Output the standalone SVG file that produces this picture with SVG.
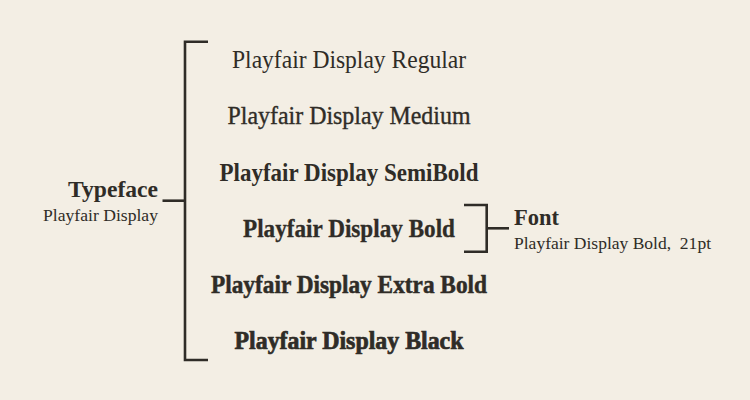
<svg xmlns="http://www.w3.org/2000/svg" width="750" height="400" viewBox="0 0 750 400">
<style>
text{font-family:"Liberation Serif","DejaVu Serif",serif;fill:#2f2c27}
.v{font-size:24.5px;text-anchor:middle}
.t{font-size:23px;font-weight:700}
.s{font-size:17.5px}
.br{fill:none;stroke:#2f2c27;stroke-width:2.6;stroke-linecap:butt}
</style>
<rect width="750" height="400" fill="#f3eee4"/>
<g id="connectors">
<path class="br" d="M208,41.7 H185 V360 H208"/>
<path class="br" d="M162.5,200.7 H185"/>
<path class="br" d="M464,205 H486.7 V251.7 H464"/>
<path class="br" d="M486.7,228.3 H509"/>
</g>
<g id="typeface">
<text class="t" x="158" y="196.7" text-anchor="end" textLength="90" lengthAdjust="spacingAndGlyphs">Typeface</text>
<text class="s" x="158" y="221" text-anchor="end" textLength="115" lengthAdjust="spacingAndGlyphs">Playfair Display</text>
</g>
<g id="regular"><text class="v" x="349" y="68" textLength="234" lengthAdjust="spacingAndGlyphs" font-weight="400">Playfair Display Regular</text></g>
<g id="medium"><text class="v" x="349" y="124.3" textLength="243" lengthAdjust="spacingAndGlyphs" font-weight="400" stroke="#2f2c27" stroke-width="0.35">Playfair Display Medium</text></g>
<g id="semibold"><text class="v" x="349" y="180.7" textLength="259" lengthAdjust="spacingAndGlyphs" font-weight="700">Playfair Display SemiBold</text></g>
<g id="bold"><text class="v" x="349" y="236.5" textLength="212" lengthAdjust="spacingAndGlyphs" font-weight="700" stroke="#2f2c27" stroke-width="0.3">Playfair Display Bold</text></g>
<g id="extrabold"><text class="v" x="349" y="292.7" textLength="276" lengthAdjust="spacingAndGlyphs" font-weight="700" stroke="#2f2c27" stroke-width="0.5">Playfair Display Extra Bold</text></g>
<g id="black"><text class="v" x="349" y="349" textLength="229" lengthAdjust="spacingAndGlyphs" font-weight="700" stroke="#2f2c27" stroke-width="0.7">Playfair Display Black</text></g>
<g id="font">
<text class="t" x="514" y="225" textLength="45" lengthAdjust="spacingAndGlyphs">Font</text>
<text class="s" x="514" y="249" textLength="197" lengthAdjust="spacingAndGlyphs" xml:space="preserve">Playfair Display Bold,  21pt</text>
</g>
</svg>
